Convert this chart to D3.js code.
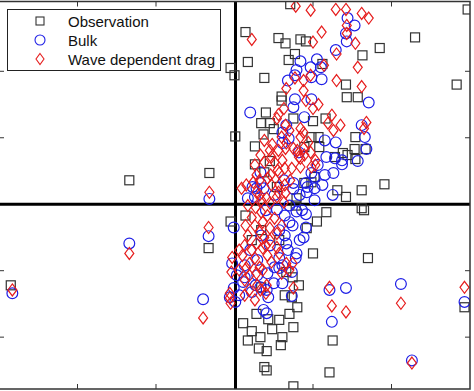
<!DOCTYPE html>
<html lang="en">
<head>
<meta charset="UTF-8">
<title>Observation vs Bulk vs Wave dependent drag</title>
<script src="https://d3js.org/d3.v7.min.js"></script>
<style>
    body { margin: 0; background: #fff; }
    svg { display: block; }
    .legend text { font-family: "Liberation Sans", Arial, Helvetica, sans-serif; font-size: 15px; fill: #111; }
</style>
</head>
<body>
<div id="chart"></div>
<script>
// series values [x, y]
const observation = [
    [-2.85,-1.22],[-1.34,0.36],[-0.32,0.47],[-0.33,-0.66],[-0.05,-0.26],[0.01,1.02],[-0.05,2.05],[0.0,1.94],
    [0.71,3.01],[0.14,2.59],[0.56,2.50],[0.65,2.42],[0.84,2.48],[0.91,2.45],[0.77,2.26],[0.69,2.17],[0.17,2.14],
    [0.38,1.90],[1.12,2.11],[1.63,2.24],[1.85,2.35],[2.30,2.51],[2.97,2.93],[2.83,1.80],[1.42,1.80],[1.43,1.61],
    [1.57,1.61],[0.60,1.62],[0.60,1.56],[0.40,1.38],[0.34,1.22],[0.45,1.22],[0.50,1.13],[0.37,1.05],[0.75,1.29],
    [1.00,1.25],[1.16,1.29],[1.54,1.01],[0.26,0.87],[0.98,1.01],[1.07,1.01],[0.89,0.86],[1.38,0.77],[1.44,0.74],
    [1.28,0.71],[1.67,0.83],[1.54,0.68],[0.45,0.65],[1.91,0.30],[1.62,0.21],[1.31,0.21],[1.02,0.41],[0.38,0.48],
    [0.26,0.60],[0.98,0.33],[1.42,0.11],[1.08,0.86],[1.53,0.83],[0.54,0.26],[1.17,-0.12],[1.62,-0.06],[1.65,-0.09],
    [1.05,-0.26],[0.92,-0.36],[1.00,-0.74],[1.70,-0.81],[0.57,-0.54],[0.78,-0.02],[0.79,0.09],[0.89,0.32],
    [0.66,-1.02],[0.74,-1.10],[0.22,-0.54],[0.82,-1.22],[0.73,-1.40],[0.80,-1.55],[0.70,-1.65],[0.11,-1.79],
    [0.28,-1.65],[0.43,-1.73],[0.57,-1.74],[0.75,-1.85],[0.22,-1.91],[0.48,-1.88],[0.33,-2.00],[0.61,-2.00],
    [0.17,-2.05],[0.59,-2.12],[0.31,-2.17],[0.41,-2.21],[1.25,-2.05],[0.38,-2.45],[0.41,-2.50],[1.21,-2.53],
    [0.75,-2.74],[2.93,-1.55],[0.14,-0.17],[0.34,-0.39],[0.64,-1.37],[0.34,-1.25]
];
const bulk = [
    [-2.83,-1.34],[-1.34,-0.59],[-0.32,0.08],[-0.33,-0.48],[-0.40,-1.43],[-0.01,-0.35],[0.01,-1.47],[1.42,-1.26],
    [1.21,-1.29],[1.24,-1.77],[2.12,-1.20],[2.93,-1.47],[2.26,-2.35],[0.73,-1.38],[0.37,-1.59],[0.41,-1.64],
    [0.61,-1.19],[1.44,2.80],[1.53,2.69],[1.42,2.57],[1.43,2.45],[1.29,2.32],[0.84,2.15],[1.05,2.18],[1.10,2.06],
    [0.97,2.06],[0.79,2.02],[0.77,1.94],[0.68,1.86],[1.11,1.88],[0.98,1.91],[0.77,1.58],[0.98,1.58],[0.75,1.46],
    [1.71,1.53],[0.20,1.38],[0.89,1.31],[1.62,1.19],[1.66,1.01],[0.66,1.19],[0.61,1.08],[1.29,0.93],[1.68,0.83],
    [1.57,0.65],[1.37,0.66],[1.17,0.71],[1.28,0.69],[1.15,0.44],[1.26,0.47],[0.98,0.47],[0.91,0.32],[0.93,0.26],
    [0.92,0.18],[1.25,0.14],[0.26,0.11],[0.63,0.36],[0.75,0.23],[0.75,0.32],[0.61,0.92],[0.82,0.78],[0.69,0.99],
    [1.37,0.60],[1.12,0.29],[1.02,0.24],[1.02,0.41],[0.86,-0.09],[0.91,-0.15],[0.91,-0.35],[0.88,-0.50],
    [0.79,-0.74],[0.68,-0.69],[0.57,-0.39],[0.70,-0.27],[0.79,-0.11],[0.54,-0.08],[0.40,-0.09],[0.17,0.09],
    [0.33,0.32],[0.37,0.24],[0.33,0.48],[0.23,0.26],[0.28,0.24],[0.13,-1.10],[0.03,-1.07],[-0.03,-0.89],
    [0.42,-1.04],[0.51,-0.95],[0.57,-0.96],[0.73,-1.02],[0.57,-0.81],[0.78,-0.81],[0.66,-0.59],[0.29,-0.84],
    [0.20,-0.69],[0.11,-1.17],[0.27,-1.22],[0.33,-1.25],[0.41,-1.29],[0.43,-1.40],[0.50,-1.19],[-0.06,-1.40],
    [-0.01,-1.26],[0.45,-0.62],[0.34,-0.47],[0.64,-0.17],[0.51,0.14],[0.13,-0.92],[0.22,-1.32],[0.06,-1.37],
    [0.64,-0.47],[0.74,-0.32],[0.83,0.14],[1.06,0.59],[0.70,-0.02],[0.61,-0.92],[0.29,-1.07],[0.83,-0.54],
    [1.02,0.06],[1.15,0.96]
];
const waveDrag = [
    [-2.83,-1.29],[-1.34,-0.74],[-0.32,0.18],[-0.33,-0.35],[-0.40,-1.71],[0.09,0.24],[1.21,-1.25],[1.24,-1.53],
    [1.42,-1.62],[0.75,-1.26],[2.12,-1.49],[2.93,-1.25],[2.26,-2.39],[0.78,2.98],[0.97,2.92],[1.29,2.93],
    [1.42,2.93],[1.62,2.87],[1.71,2.80],[1.43,2.69],[1.43,2.57],[0.22,2.48],[1.11,2.59],[1.00,2.44],[1.54,2.42],
    [1.30,2.26],[1.57,2.06],[1.30,1.86],[1.62,1.77],[1.14,2.09],[0.97,1.94],[0.88,1.86],[0.77,1.90],[0.66,1.74],
    [0.88,1.71],[1.07,1.50],[1.00,1.44],[0.91,1.56],[0.63,1.44],[0.56,1.35],[0.54,1.29],[1.24,1.34],[1.35,1.19],
    [1.19,1.22],[1.68,1.23],[1.26,1.11],[1.65,1.14],[0.65,1.19],[0.84,1.14],[0.88,1.08],[0.84,1.01],[0.60,1.01],
    [0.48,0.90],[0.33,0.74],[0.56,0.81],[0.65,0.84],[0.75,0.84],[0.88,0.84],[0.94,0.93],[0.97,0.78],[1.03,0.66],
    [0.82,0.71],[0.61,0.66],[0.51,0.63],[0.64,0.54],[0.55,0.51],[0.46,0.44],[0.42,0.39],[0.26,0.59],[0.24,0.33],
    [0.32,0.36],[0.28,0.18],[0.47,0.29],[0.56,0.18],[0.65,0.17],[0.84,0.69],[1.03,0.59],[0.84,0.56],[0.71,0.36],
    [0.28,0.44],[0.15,0.29],[0.38,0.63],[0.47,0.71],[0.66,0.92],[0.80,0.81],[0.89,0.74],[0.98,0.56],[0.57,0.47],
    [0.32,0.14],[0.41,0.09],[0.27,-0.05],[0.34,-0.12],[0.42,-0.17],[0.36,-0.27],[0.45,-0.36],[0.32,-0.42],
    [0.38,-0.50],[0.28,-0.59],[0.36,-0.66],[0.42,-0.77],[0.26,-0.81],[0.19,-0.89],[0.15,-0.96],[0.32,-0.95],
    [0.28,-1.04],[0.45,-0.54],[0.54,-0.65],[0.57,-0.74],[0.66,-0.89],[0.74,-0.89],[0.70,-0.99],[0.60,-1.04],
    [-0.03,-0.80],[-0.04,-1.02],[0.54,-0.44],[0.26,-0.32],[0.22,-0.20],[0.63,0.03],[0.54,0.11],[0.45,0.02],
    [-0.06,-1.34],[-0.06,-1.41],[-0.05,-1.49],[0.33,-1.29],[0.40,-1.34],[0.41,-1.22],[0.13,-1.14],[0.19,-1.29],
    [0.06,-0.69],[0.17,-0.47],[0.13,-0.62],[0.17,-0.02],[0.22,-0.69],[0.29,-1.22],[0.36,-0.99],[0.47,-0.87],
    [0.40,-0.62],[0.51,-0.21],[0.60,-0.32],[0.19,-1.07],[0.10,-0.77],[0.34,0.06],[0.64,0.29],[0.73,0.54],
    [0.45,0.81],[0.70,1.11],[0.38,0.96],[0.57,0.29],[0.14,-0.32],[0.06,-0.99],[0.13,-1.37],[0.26,-1.44]
];
const xTicks = [-2, -1, 1, 2];
const yTicks = [-2, -1, 1, 2];
const legendLabels = ["Observation", "Bulk", "Wave dependent drag"];

const width = 474, height = 391;
const m = { left: -1, right: 470, top: 1.5, bottom: 389 };

const svg = d3.select("#chart").append("svg").attr("width", width).attr("height", height);

const x = d3.scaleLinear().domain([-3, 3]).range([m.left, m.right]);
const y = d3.scaleLinear().domain([-2.78, 3.05]).range([m.bottom, m.top]);

svg.append("clipPath").attr("id", "clip")
    .append("rect").attr("x", m.left).attr("y", m.top)
    .attr("width", m.right - m.left).attr("height", m.bottom - m.top);

// inward ticks on all four sides
const tk = svg.append("g").attr("stroke", "#333").attr("stroke-width", 1);
xTicks.forEach(t => {
    tk.append("line").attr("x1", x(t)).attr("x2", x(t)).attr("y1", m.top).attr("y2", m.top + 5);
    tk.append("line").attr("x1", x(t)).attr("x2", x(t)).attr("y1", m.bottom).attr("y2", m.bottom - 5);
});
yTicks.forEach(t => {
    tk.append("line").attr("x1", m.left).attr("x2", m.left + 5).attr("y1", y(t)).attr("y2", y(t));
    tk.append("line").attr("x1", m.right).attr("x2", m.right - 5).attr("y1", y(t)).attr("y2", y(t));
});

const plot = svg.append("g").attr("clip-path", "url(#clip)");

// zero lines
plot.append("line").attr("x1", x(0) + 1).attr("x2", x(0) + 1).attr("y1", m.top).attr("y2", m.bottom)
    .attr("stroke", "#000").attr("stroke-width", 3);
plot.append("line").attr("x1", m.left).attr("x2", m.right).attr("y1", y(0)).attr("y2", y(0))
    .attr("stroke", "#000").attr("stroke-width", 3);

const diamond = "M0,-6L4.5,0L0,6L-4.5,0Z";

plot.append("g").selectAll("rect").data(observation).enter().append("rect")
    .attr("x", d => x(d[0]) - 4.5).attr("y", d => y(d[1]) - 4.5)
    .attr("width", 9).attr("height", 9)
    .attr("fill", "none").attr("stroke", "#333").attr("stroke-width", 1.2);

plot.append("g").selectAll("circle").data(bulk).enter().append("circle")
    .attr("cx", d => x(d[0])).attr("cy", d => y(d[1])).attr("r", 5.4)
    .attr("fill", "none").attr("stroke", "#1f1fe6").attr("stroke-width", 1.2);

plot.append("g").selectAll("path").data(waveDrag).enter().append("path")
    .attr("d", diamond)
    .attr("transform", d => `translate(${x(d[0])},${y(d[1])})`)
    .attr("fill", "none").attr("stroke", "#e61e1e").attr("stroke-width", 1.2);

// frame
svg.append("rect").attr("x", m.left).attr("y", m.top)
    .attr("width", m.right - m.left).attr("height", m.bottom - m.top)
    .attr("fill", "none").attr("stroke", "#333").attr("stroke-width", 1.5);

// legend
const lg = svg.append("g").attr("class", "legend");
lg.append("rect").attr("x", 7.5).attr("y", 9.5).attr("width", 213).attr("height", 61)
    .attr("fill", "#fff").attr("stroke", "#222").attr("stroke-width", 1);
const rowY = [21, 40, 59];
lg.append("rect").attr("x", 36).attr("y", rowY[0] - 4).attr("width", 8).attr("height", 8)
    .attr("fill", "none").attr("stroke", "#333").attr("stroke-width", 1.1);
lg.append("circle").attr("cx", 40).attr("cy", rowY[1]).attr("r", 5)
    .attr("fill", "none").attr("stroke", "#1f1fe6").attr("stroke-width", 1.1);
lg.append("path").attr("d", "M0,-5.5L4,0L0,5.5L-4,0Z").attr("transform", `translate(40,${rowY[2]})`)
    .attr("fill", "none").attr("stroke", "#e61e1e").attr("stroke-width", 1.1);
legendLabels.forEach((t, i) => {
    lg.append("text").attr("x", 68).attr("y", rowY[i] + 6).text(t);
});
</script>
</body>
</html>
